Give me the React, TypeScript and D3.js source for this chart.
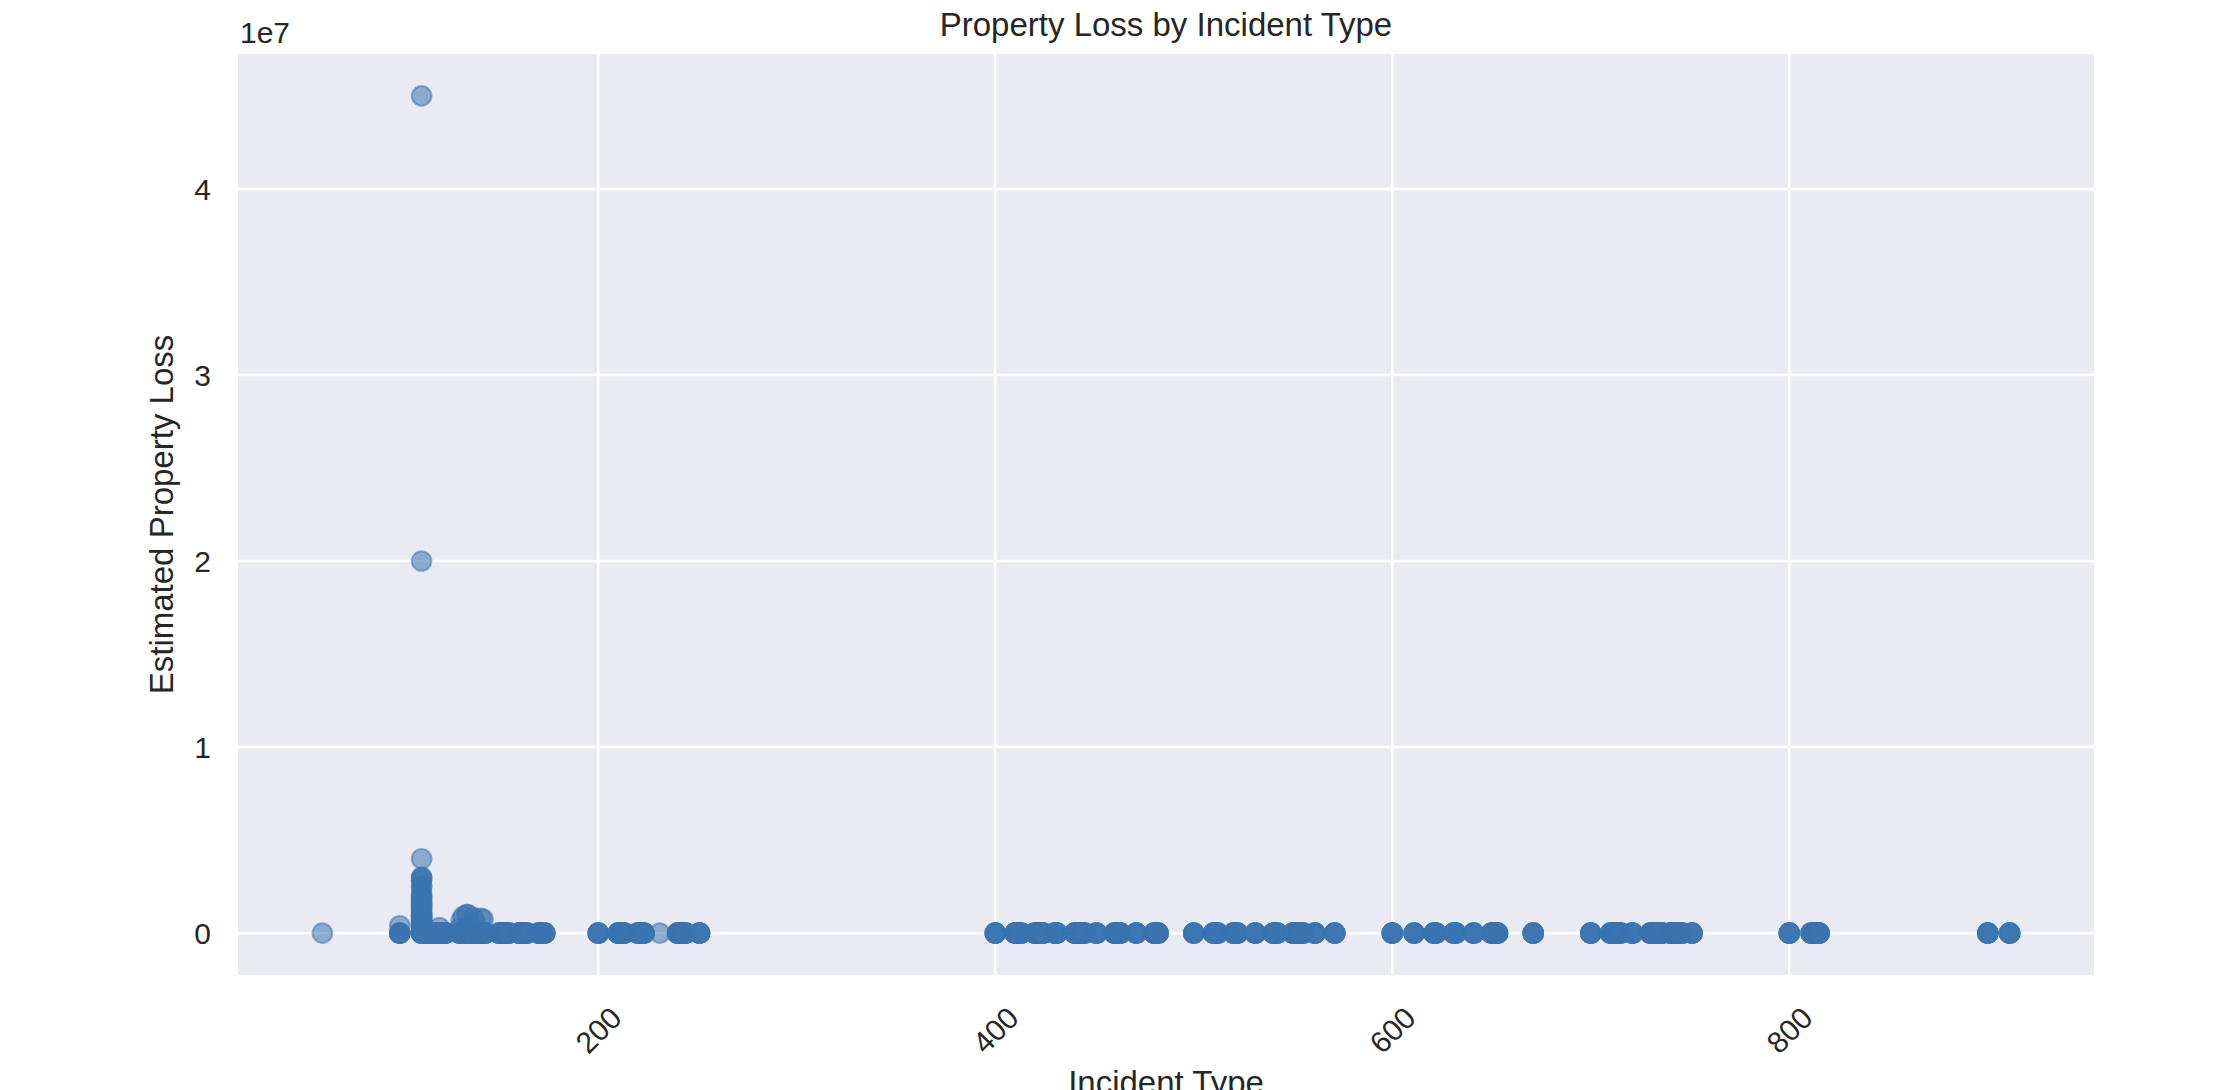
import React from 'react';
import * as d3 from 'd3';

// ---- data ----
// incident type codes that appear many times with a zero estimated loss
const zeroLossCodes = [
  100, 111, 112, 113, 114, 115, 116, 117, 118, 120, 121, 122, 123,
  130, 131, 132, 133, 134, 135, 136, 137, 138, 140, 141, 142, 143,
  150, 151, 152, 153, 154, 155, 160, 161, 162, 163, 164, 170, 171, 173,
  200, 210, 211, 212, 213, 220, 221, 222, 223, 240, 241, 242, 243, 244, 251,
  400, 410, 411, 412, 413, 420, 421, 422, 423, 424, 430, 431,
  440, 441, 442, 443, 444, 445, 451, 460, 461, 462, 463, 471, 480, 481, 482,
  500, 510, 511, 512, 520, 521, 522, 531, 540, 541, 542,
  550, 551, 552, 553, 554, 555, 561, 571,
  600, 611, 621, 622, 631, 632, 641, 650, 651, 652, 653, 671,
  700, 710, 711, 712, 713, 714, 715, 721, 730, 731, 732, 733, 734, 735, 736,
  740, 741, 742, 743, 744, 745, 746, 751,
  800, 811, 812, 813, 814, 815,
  900, 911,
];
const zeroLossRepeats = 5;
// incident type codes that appear only once with a zero loss
const singleZeroCodes = [61, 231];

// building fires (type 111) with a recorded loss
const buildingFireType = 111;
const buildingFireLosses = [
  45000000, 20000000, 4000000, 3000000, 3000000, 2900000, 2800000, 2500000,
  2500000, 2200000, 2000000, 2000000, 1900000, 1800000, 1700000, 1600000,
  1500000, 1500000, 1400000, 1300000, 1200000, 1100000, 1000000, 1000000,
  950000, 900000, 850000, 800000, 750000, 700000, 650000, 600000, 550000,
  500000, 450000, 400000, 350000, 300000, 250000, 200000, 150000, 100000,
  75000, 50000, 25000,
];

// other incident types with a recorded loss
const otherLossTypes = [100, 120, 130, 131, 132, 134, 134, 135, 136, 137, 138, 141, 142];
const otherLossValues = [400000, 300000, 250000, 700000, 900000, 1000000, 1000000, 300000, 400000, 850000, 600000, 800000, 750000];

const xTicks = [200, 400, 600, 800];
const yTicks = [0, 1e7, 2e7, 3e7, 4e7];
const yTickLabels = ['0', '1', '2', '3', '4'];

const W = 2222;
const H = 1090;
const PLOT = { left: 238, right: 2094, top: 54, bottom: 975 };
const FONT = '"Liberation Sans", Arial, "DejaVu Sans", sans-serif';
const TEXT = '#262626';
const BG = '#eaeaf2';
const DOT = '#3a75b0';

type Pt = { t: number; v: number };

export default function App() {
  const points: Pt[] = [];
  singleZeroCodes.forEach((t) => points.push({ t, v: 0 }));
  zeroLossCodes.forEach((t) => {
    for (let i = 0; i < zeroLossRepeats; i++) points.push({ t, v: 0 });
  });
  buildingFireLosses.forEach((v) => points.push({ t: buildingFireType, v }));
  otherLossTypes.forEach((t, i) => points.push({ t, v: otherLossValues[i] }));

  const [xMin, xMax] = d3.extent(points, (d) => d.t) as [number, number];
  const [yMin, yMax] = d3.extent(points, (d) => d.v) as [number, number];
  const xPad = (xMax - xMin) * 0.05;
  const yPad = (yMax - yMin) * 0.05;

  const x = d3.scaleLinear().domain([xMin - xPad, xMax + xPad]).range([PLOT.left, PLOT.right]);
  const y = d3.scaleLinear().domain([yMin - yPad, yMax + yPad]).range([PLOT.bottom, PLOT.top]);

  const cx = (PLOT.left + PLOT.right) / 2;
  const cy = (PLOT.top + PLOT.bottom) / 2;

  return (
    <svg
      width={W}
      height={H}
      style={{ position: 'absolute', left: 0, top: 0, display: 'block', background: '#fff' }}
      fontFamily={FONT}
    >
      <rect x={0} y={0} width={W} height={H} fill="#fff" />
      <rect
        x={PLOT.left}
        y={PLOT.top}
        width={PLOT.right - PLOT.left}
        height={PLOT.bottom - PLOT.top}
        fill={BG}
      />
      {/* grid */}
      {xTicks.map((t) => (
        <line key={'gx' + t} x1={x(t)} x2={x(t)} y1={PLOT.top} y2={PLOT.bottom} stroke="#fff" strokeWidth={2.5} />
      ))}
      {yTicks.map((t) => (
        <line key={'gy' + t} x1={PLOT.left} x2={PLOT.right} y1={y(t)} y2={y(t)} stroke="#fff" strokeWidth={2.5} />
      ))}
      {/* points */}
      <g>
        {points.map((d, i) => (
          <circle
            key={i}
            cx={x(d.t)}
            cy={y(d.v)}
            r={9.8}
            fill={DOT}
            fillOpacity={0.55}
            stroke={DOT}
            strokeOpacity={0.55}
            strokeWidth={2}
          />
        ))}
      </g>
      {/* y tick labels */}
      {yTicks.map((t, i) => (
        <text key={'ty' + t} x={211} y={y(t)} dy="0.36em" textAnchor="end" fontSize={30} fill={TEXT}>
          {yTickLabels[i]}
        </text>
      ))}
      {/* x tick labels, rotated 45 degrees */}
      {xTicks.map((t) => (
        <text
          key={'tx' + t}
          x={x(t)}
          y={1030}
          dy="0.36em"
          textAnchor="middle"
          fontSize={30}
          fill={TEXT}
          transform={`rotate(-45, ${x(t)}, 1030)`}
        >
          {t}
        </text>
      ))}
      {/* offset text */}
      <text x={240} y={43} fontSize={30} fill={TEXT}>
        1e7
      </text>
      {/* title */}
      <text x={cx} y={36} textAnchor="middle" fontSize={33} fill={TEXT}>
        Property Loss by Incident Type
      </text>
      {/* axis labels */}
      <text x={cx} y={1094} textAnchor="middle" fontSize={33} fill={TEXT}>
        Incident Type
      </text>
      <text
        x={173}
        y={cy}
        textAnchor="middle"
        fontSize={33}
        fill={TEXT}
        transform={`rotate(-90, 173, ${cy})`}
      >
        Estimated Property Loss
      </text>
    </svg>
  );
}
